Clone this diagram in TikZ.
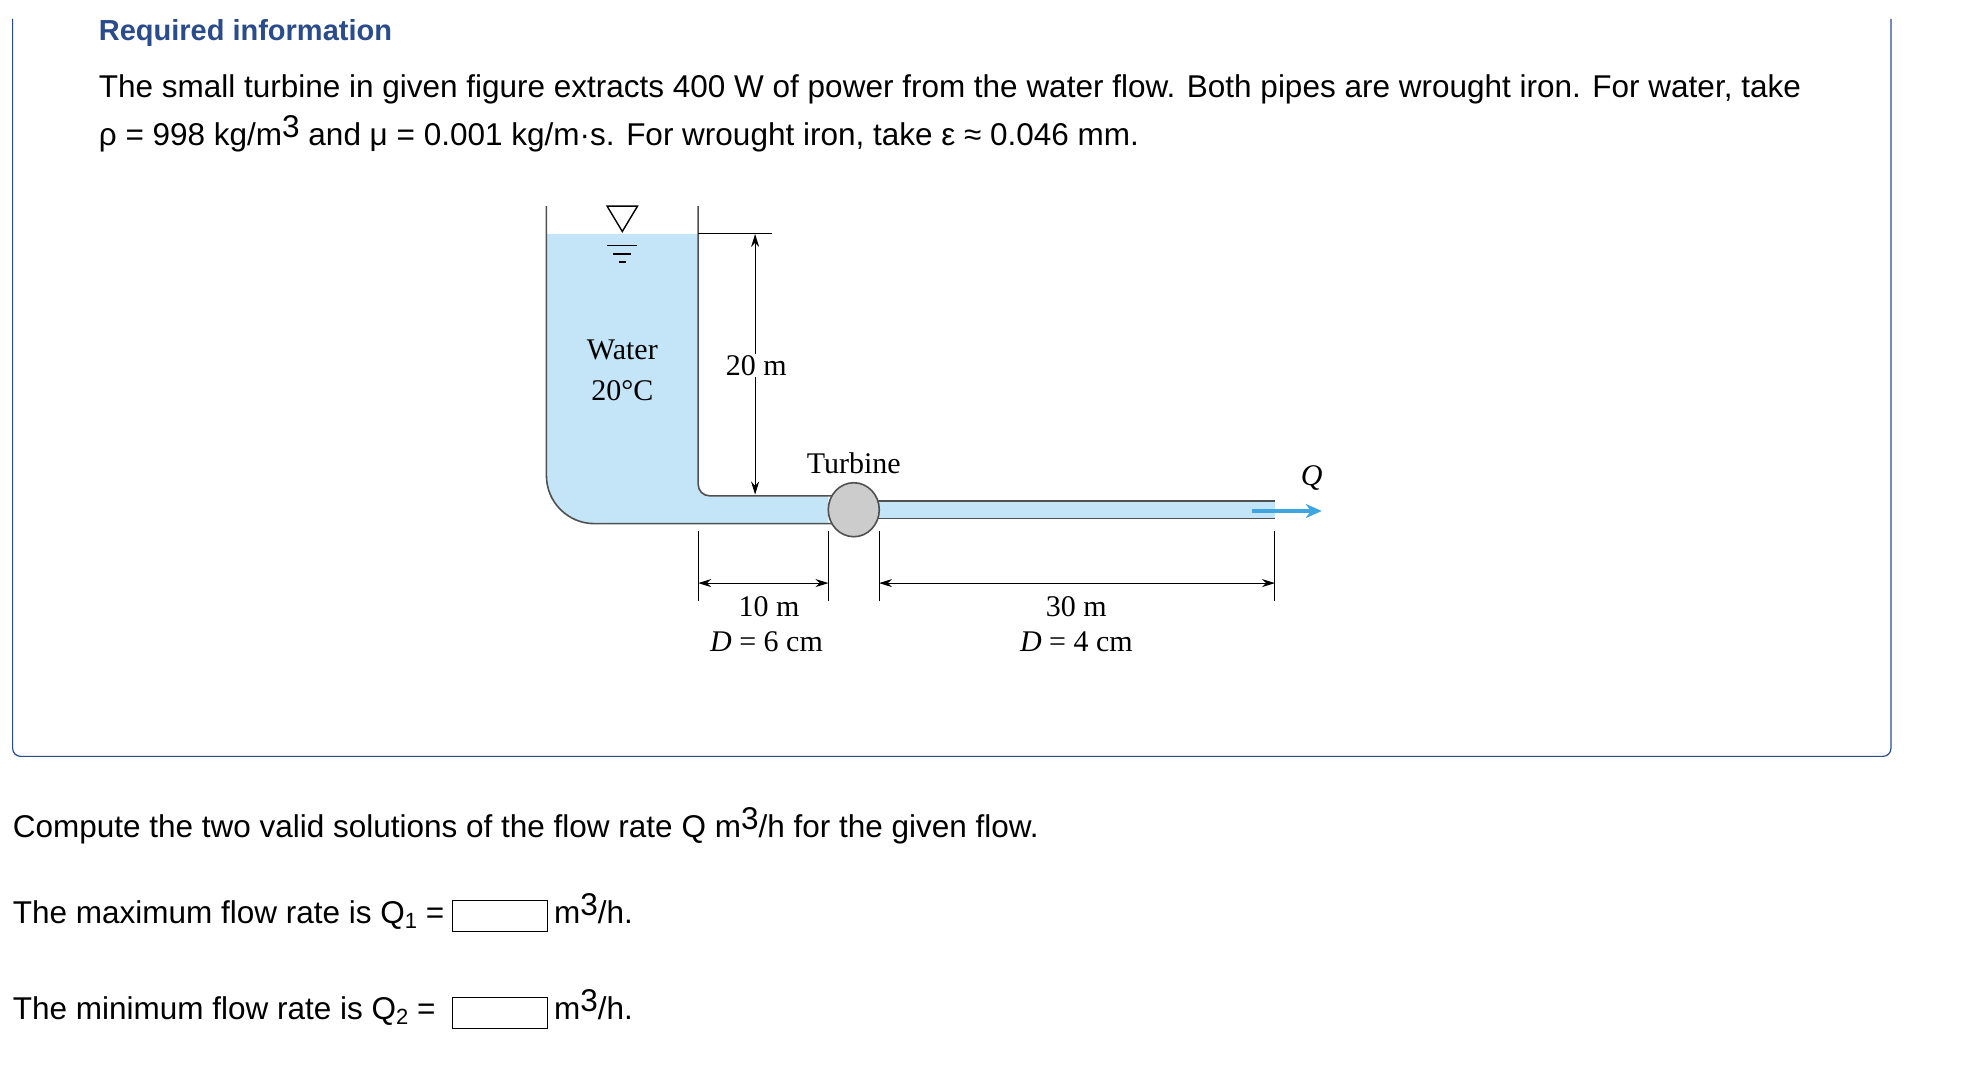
\documentclass[tikz,border=0pt]{standalone}
\usepackage{fontspec}
\setmainfont{Liberation Sans}
\newfontfamily\dfont{Liberation Serif}
\usetikzlibrary{arrows.meta,shapes.geometric}
\definecolor{hdr}{HTML}{2B4C8C}
\definecolor{water}{HTML}{C4E4F7}
\definecolor{qblue}{HTML}{3DA5E0}
\definecolor{wall}{HTML}{505050}
\begin{document}
\begin{tikzpicture}[x=1.265pt,y=-1.265pt,
  main/.style={font=\fontsize{31.5}{38}\selectfont,anchor=base west,inner sep=0},
  dlab/.style={font=\dfont\fontsize{30}{34}\selectfont,inner sep=1pt},
  dim/.style={draw=black,line width=1pt,{Stealth[length=13pt,width=8pt]}-{Stealth[length=13pt,width=8pt]}},
  ext/.style={draw=black,line width=1pt},
  wallst/.style={draw=wall,line width=1.6pt},
  ansbox/.style={draw=black,line width=1pt,minimum width=95pt,minimum height=31pt,inner sep=0}]
\useasboundingbox (0,0) rectangle (1567,847);
% frame
\draw[hdr,line width=1.2pt,rounded corners=8pt] (10,15) -- (10,598) -- (1495,598) -- (1495,15);
\node[main,font=\bfseries\fontsize{29}{34}\selectfont,text=hdr] (req) at (78,32) {Required information};
\node[main] (p1) at (78,77) {The small turbine in given figure extracts 400 W of power from the water flow. Both pipes are wrought iron. For water, take};
\node[main] (p2) at (78,115) {ρ = 998 kg/m\raisebox{0.5ex}{3} and μ = 0.001 kg/m·s. For wrought iron, take ε ≈ 0.046 mm.};
% water fill
\fill[water] (432,185) -- (552,185) -- (552,383) arc[start angle=180,end angle=90,radius=9] -- (655,392) -- (655,414) -- (470,414) arc[start angle=90,end angle=180,radius=38] -- cycle;
\fill[water] (690,396) rectangle (1008,410);
% walls
\draw[wallst] (432,163) -- (432,376) arc[start angle=180,end angle=90,radius=38] -- (660,414);
\draw[wallst] (552,163) -- (552,383) arc[start angle=180,end angle=90,radius=9] -- (660,392);
\draw[wallst] (690,396) -- (1008,396);
\draw[wallst] (690,410) -- (1008,410);
\node[draw=wall,fill=gray!40,line width=1.6pt,ellipse,minimum width=51pt,minimum height=54pt,inner sep=0] (turb) at (675,403) {};
% free surface symbol
\draw[black,line width=1.4pt] (480,163) -- (504,163) -- (492,183) -- cycle;
\draw[black,line width=1.6pt] (480,194) -- (504,194) (485,201) -- (499,201) (489,207) -- (495,207);
% labels
\node[dlab] (w1) at (492,277) {Water};
\node[dlab] (w2) at (492,309) {20°C};
\node[dlab] (tl) at (675,366) {Turbine};
\node[dlab,font=\dfont\itshape\fontsize{30}{34}\selectfont] (q) at (1037,378) {Q};
\coordinate (qa) at (990,404); \coordinate (qb) at (1045,404);
\draw[qblue,line width=4pt,-{Stealth[length=16pt,width=14pt]}] (qa) -- (qb);
% 20 m
\coordinate (t1) at (552,185); \coordinate (t2) at (610,185);
\draw[ext] (t1) -- (t2);
\coordinate (h1) at (597,185); \coordinate (h2) at (597,391);
\draw[dim] (h1) -- (h2);
\node[dlab,fill=white] (h) at (598,289) {20 m};
% extension lines
\foreach \n/\x in {e1/552,e2/655,e3/695,e4/1008}{
  \coordinate (\n a) at (\x,420); \coordinate (\n b) at (\x,475);
  \draw[ext] (\n a) -- (\n b);}
\coordinate (d1) at (552,461); \coordinate (d2) at (655,461);
\coordinate (d3) at (695,461); \coordinate (d4) at (1008,461);
\draw[dim] (d1) -- (d2);
\draw[dim] (d3) -- (d4);
\node[dlab] (l1) at (608,480) {10 m};
\node[dlab] (l2) at (606,507) {\textit{D} = 6 cm};
\node[dlab] (l3) at (851,480) {30 m};
\node[dlab] (l4) at (851,507) {\textit{D} = 4 cm};
% questions
\node[main] (c) at (10,662) {Compute the two valid solutions of the flow rate Q m\raisebox{0.5ex}{3}/h for the given flow.};
\node[main] (m1) at (10,730) {The maximum flow rate is Q\raisebox{-0.3ex}{\fontsize{22}{22}\selectfont 1} =};
\node[ansbox] (b1) at (395,724) {};
\node[main] (u1) at (438,730) {m\raisebox{0.5ex}{3}/h.};
\node[main] (m2) at (10,806) {The minimum flow rate is Q\raisebox{-0.3ex}{\fontsize{22}{22}\selectfont 2} =};
\node[ansbox] (b2) at (395,801) {};
\node[main] (u2) at (438,806) {m\raisebox{0.5ex}{3}/h.};
\end{tikzpicture}
\end{document}
